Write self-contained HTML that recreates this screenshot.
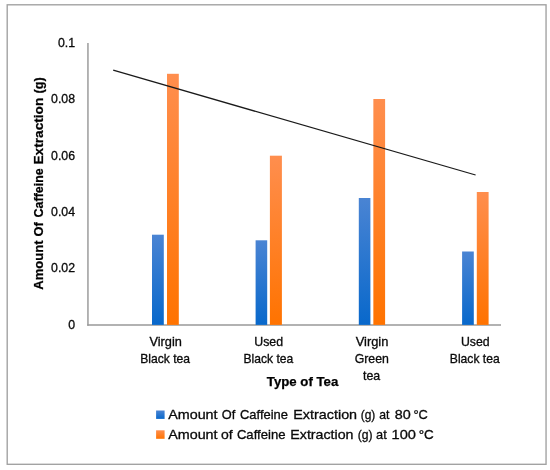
<!DOCTYPE html>
<html>
<head>
<meta charset="utf-8">
<title>Caffeine Extraction Chart</title>
<style>
html,body{margin:0;padding:0;background:#fff;}
body{width:550px;height:470px;overflow:hidden;}
svg{display:block;}
text{font-family:"Liberation Sans",sans-serif;fill:#0a0a0a;stroke:#0a0a0a;stroke-width:0.3px;}
.tick{font-size:12.3px;}
.cat{font-size:12.1px;}
.ttl{font-size:12.8px;font-weight:bold;fill:#000;stroke:#000;stroke-width:0.25px;}
.leg{font-size:12.7px;}
</style>
</head>
<body>
<svg width="550" height="470" viewBox="0 0 550 470">
<defs>
<linearGradient id="gb" x1="0" y1="0" x2="0" y2="1">
<stop offset="0" stop-color="#4a84d3"/>
<stop offset="1" stop-color="#0868cb"/>
</linearGradient>
<linearGradient id="go" x1="0" y1="0" x2="0" y2="1">
<stop offset="0" stop-color="#ff8e4e"/>
<stop offset="1" stop-color="#ff7300"/>
</linearGradient>
</defs>
<rect x="0" y="0" width="550" height="470" fill="#ffffff"/>
<rect x="7.2" y="4.8" width="538.85" height="459.5" fill="none" stroke="#a0a0a0" stroke-width="1.35"/>

<!-- axes -->
<line x1="87.95" y1="43" x2="87.95" y2="325.7" stroke="#989898" stroke-width="1.45"/>
<line x1="87.3" y1="325" x2="501" y2="325" stroke="#989898" stroke-width="1.45"/>

<!-- bars -->
<g>
<rect x="152" y="234.7" width="11.8" height="90.2" fill="url(#gb)"/>
<rect x="167" y="73.8" width="11.8" height="251.1" fill="url(#go)"/>
<rect x="255.6" y="240.3" width="11.6" height="84.6" fill="url(#gb)"/>
<rect x="269.9" y="155.7" width="12" height="169.2" fill="url(#go)"/>
<rect x="358.8" y="198.0" width="11.6" height="126.9" fill="url(#gb)"/>
<rect x="373.35" y="99.0" width="11.75" height="225.9" fill="url(#go)"/>
<rect x="462.1" y="251.5" width="11.7" height="73.4" fill="url(#gb)"/>
<rect x="476.8" y="192.0" width="11.8" height="132.9" fill="url(#go)"/>
</g>

<!-- trend line -->
<line x1="113.2" y1="70.2" x2="475.6" y2="175" stroke="#1a1a1a" stroke-width="1.25"/>

<!-- y tick labels -->
<g class="tick" text-anchor="end">
<text x="75" y="47.1">0.1</text>
<text x="75" y="103.3">0.08</text>
<text x="75" y="159.6">0.06</text>
<text x="75" y="215.9">0.04</text>
<text x="75" y="272.2">0.02</text>
<text x="75" y="328.9">0</text>
</g>

<!-- y title -->
<text class="ttl" style="font-size:13.4px" transform="translate(42.9,290) rotate(-90)" y="0"><tspan x="0.2" textLength="49.4" lengthAdjust="spacingAndGlyphs">Amount</tspan> <tspan x="53.6" textLength="14.3" lengthAdjust="spacingAndGlyphs">Of</tspan> <tspan x="72.6" textLength="49.1" lengthAdjust="spacingAndGlyphs">Caffeine</tspan> <tspan x="125.5" textLength="66.8" lengthAdjust="spacingAndGlyphs">Extraction</tspan> <tspan x="196.5" textLength="16.1" lengthAdjust="spacingAndGlyphs">(g)</tspan></text>

<!-- category labels -->
<g class="cat">
<text x="149.5" y="346" textLength="32.4" lengthAdjust="spacingAndGlyphs">Virgin</text>
<text x="140.2" y="363" textLength="49.9" lengthAdjust="spacingAndGlyphs">Black tea</text>
<text x="254.3" y="346" textLength="28.8" lengthAdjust="spacingAndGlyphs">Used</text>
<text x="243.5" y="363" textLength="49.8" lengthAdjust="spacingAndGlyphs">Black tea</text>
<text x="355.7" y="346" textLength="32.7" lengthAdjust="spacingAndGlyphs">Virgin</text>
<text x="354.7" y="363" textLength="34.2" lengthAdjust="spacingAndGlyphs">Green</text>
<text x="363.0" y="379.6" textLength="17.2" lengthAdjust="spacingAndGlyphs">tea</text>
<text x="460.9" y="346" textLength="28.7" lengthAdjust="spacingAndGlyphs">Used</text>
<text x="449.8" y="363" textLength="49.9" lengthAdjust="spacingAndGlyphs">Black tea</text>
</g>

<!-- x title -->
<text x="266.8" y="386" textLength="71.5" lengthAdjust="spacingAndGlyphs" class="ttl">Type of Tea</text>

<!-- legend -->
<rect x="156.1" y="410.5" width="8.5" height="8.4" fill="url(#gb)"/>
<rect x="156.1" y="430.3" width="8.5" height="8.5" fill="url(#go)"/>
<text class="leg" y="419"><tspan x="168.2" textLength="49.4" lengthAdjust="spacingAndGlyphs">Amount</tspan> <tspan x="221.7" textLength="13.5" lengthAdjust="spacingAndGlyphs">Of</tspan> <tspan x="240.0" textLength="48.0" lengthAdjust="spacingAndGlyphs">Caffeine</tspan> <tspan x="293.3" textLength="63.8" lengthAdjust="spacingAndGlyphs">Extraction</tspan> <tspan x="360.7" textLength="14.6" lengthAdjust="spacingAndGlyphs">(g)</tspan> <tspan x="379.3" textLength="10.2" lengthAdjust="spacingAndGlyphs">at</tspan> <tspan x="394.7" textLength="16.0" lengthAdjust="spacingAndGlyphs">80</tspan> <tspan x="413.4" textLength="14.4" lengthAdjust="spacingAndGlyphs">°C</tspan></text>
<text class="leg" y="438.7"><tspan x="168.2" textLength="49.4" lengthAdjust="spacingAndGlyphs">Amount</tspan> <tspan x="220.9" textLength="11.7" lengthAdjust="spacingAndGlyphs">of</tspan> <tspan x="236.9" textLength="48.6" lengthAdjust="spacingAndGlyphs">Caffeine</tspan> <tspan x="290.3" textLength="63.2" lengthAdjust="spacingAndGlyphs">Extraction</tspan> <tspan x="357.7" textLength="14.8" lengthAdjust="spacingAndGlyphs">(g)</tspan> <tspan x="376.1" textLength="10.7" lengthAdjust="spacingAndGlyphs">at</tspan> <tspan x="391.5" textLength="24.4" lengthAdjust="spacingAndGlyphs">100</tspan> <tspan x="418.7" textLength="15.1" lengthAdjust="spacingAndGlyphs">°C</tspan></text>
</svg>
</body>
</html>
